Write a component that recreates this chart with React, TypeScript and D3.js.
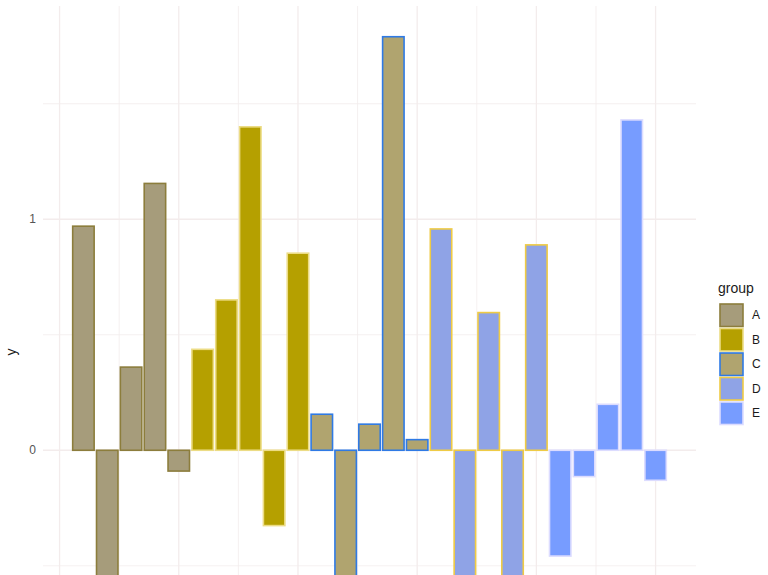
import React from "react";
import * as d3 from "d3";

const groups = ["A", "B", "C", "D", "E"];
const fills = ["#a69c7b", "#b5a000", "#b0a46f", "#8fa3e6", "#779cff"];
const strokes = ["#8c7d3c", "#ecdc85", "#2f7ae5", "#efcb45", "#dcdcff"];
const xs = d3.range(1, 26);
const values = [
  0.97, -0.72, 0.36, 1.155, -0.09,
  0.437, 0.651, 1.4, -0.326, 0.853,
  0.156, -0.87, 0.113, 1.79, 0.046,
  0.958, -0.65, 0.596, -0.8, 0.889,
  -0.458, -0.114, 0.199, 1.43, -0.13,
];
const barGroup = xs.map((_, i) => groups[Math.floor(i / 5)]);
const yMajor = [-1, 0, 1];
const yMinor = [-0.5, 0.5, 1.5];
const xGrid = d3.range(0, 25.1, 2.5);

const W = 768, H = 575;
const panel = { left: 43, right: 696, top: 6, bottom: 682 };

export default function App() {
  const x = d3.scaleLinear().domain([-0.695, 26.695]).range([panel.left, panel.right]);
  const yMin = d3.min(values)!, yMax = d3.max(values)!;
  const pad = (yMax - yMin) * 0.05;
  const y = d3.scaleLinear().domain([yMin - pad, yMax + pad]).range([panel.bottom, panel.top]);
  const color = d3.scaleOrdinal<string, string>().domain(groups).range(fills);
  const outline = d3.scaleOrdinal<string, string>().domain(groups).range(strokes);
  const bw = (x(1) - x(0)) * 0.9;
  const grid = "#f3ecec";
  const keyH = 24.5;
  return (
    <svg width={W} height={H} style={{ position: "absolute", left: 0, top: 0, background: "#fff" }}
      fontFamily="Liberation Sans, Arial, sans-serif">
      <defs>
        <clipPath id="pc"><rect x={panel.left} y={panel.top} width={panel.right - panel.left} height={panel.bottom - panel.top} /></clipPath>
      </defs>
      <g>
        {yMinor.map(v => (
          <line key={"ym" + v} x1={panel.left} x2={panel.right} y1={y(v)} y2={y(v)} stroke={grid} strokeWidth={0.8} />
        ))}
        {xGrid.map((v, i) => (
          <line key={"xg" + v} x1={x(v)} x2={x(v)} y1={panel.top} y2={panel.bottom} stroke={grid} strokeWidth={i % 2 === 0 ? 1.3 : 0.8} />
        ))}
        {yMajor.map(v => (
          <line key={"yM" + v} x1={panel.left} x2={panel.right} y1={y(v)} y2={y(v)} stroke={grid} strokeWidth={1.3} />
        ))}
      </g>
      <g clipPath="url(#pc)">
        {values.map((v, i) => {
          const g = barGroup[i];
          const y0 = y(Math.max(0, v)), y1 = y(Math.min(0, v));
          return (
            <rect key={i} x={x(xs[i]) - bw / 2} y={y0} width={bw} height={y1 - y0}
              fill={color(g)} stroke={outline(g)} strokeWidth={1.6} />
          );
        })}
      </g>
      {yMajor.filter(v => y(v) < H).map(v => (
        <text key={"yl" + v} x={36} y={y(v)} dy="0.35em" textAnchor="end" fontSize={12} fill="#555">{v}</text>
      ))}
      <text transform={`translate(16,352) rotate(-90)`} textAnchor="middle" fontSize={14} fill="#1a1a1a">y</text>
      <text x={718} y={293} fontSize={14} fill="#1a1a1a">group</text>
      {groups.map((g, i) => (
        <g key={g} transform={`translate(719,${303 + i * keyH})`}>
          <rect x={1} y={1} width={23} height={keyH - 2} fill={color(g)} stroke={outline(g)} strokeWidth={1.6} />
          <text x={33} y={keyH / 2} dy="0.35em" fontSize={12} fill="#1a1a1a">{g}</text>
        </g>
      ))}
    </svg>
  );
}
